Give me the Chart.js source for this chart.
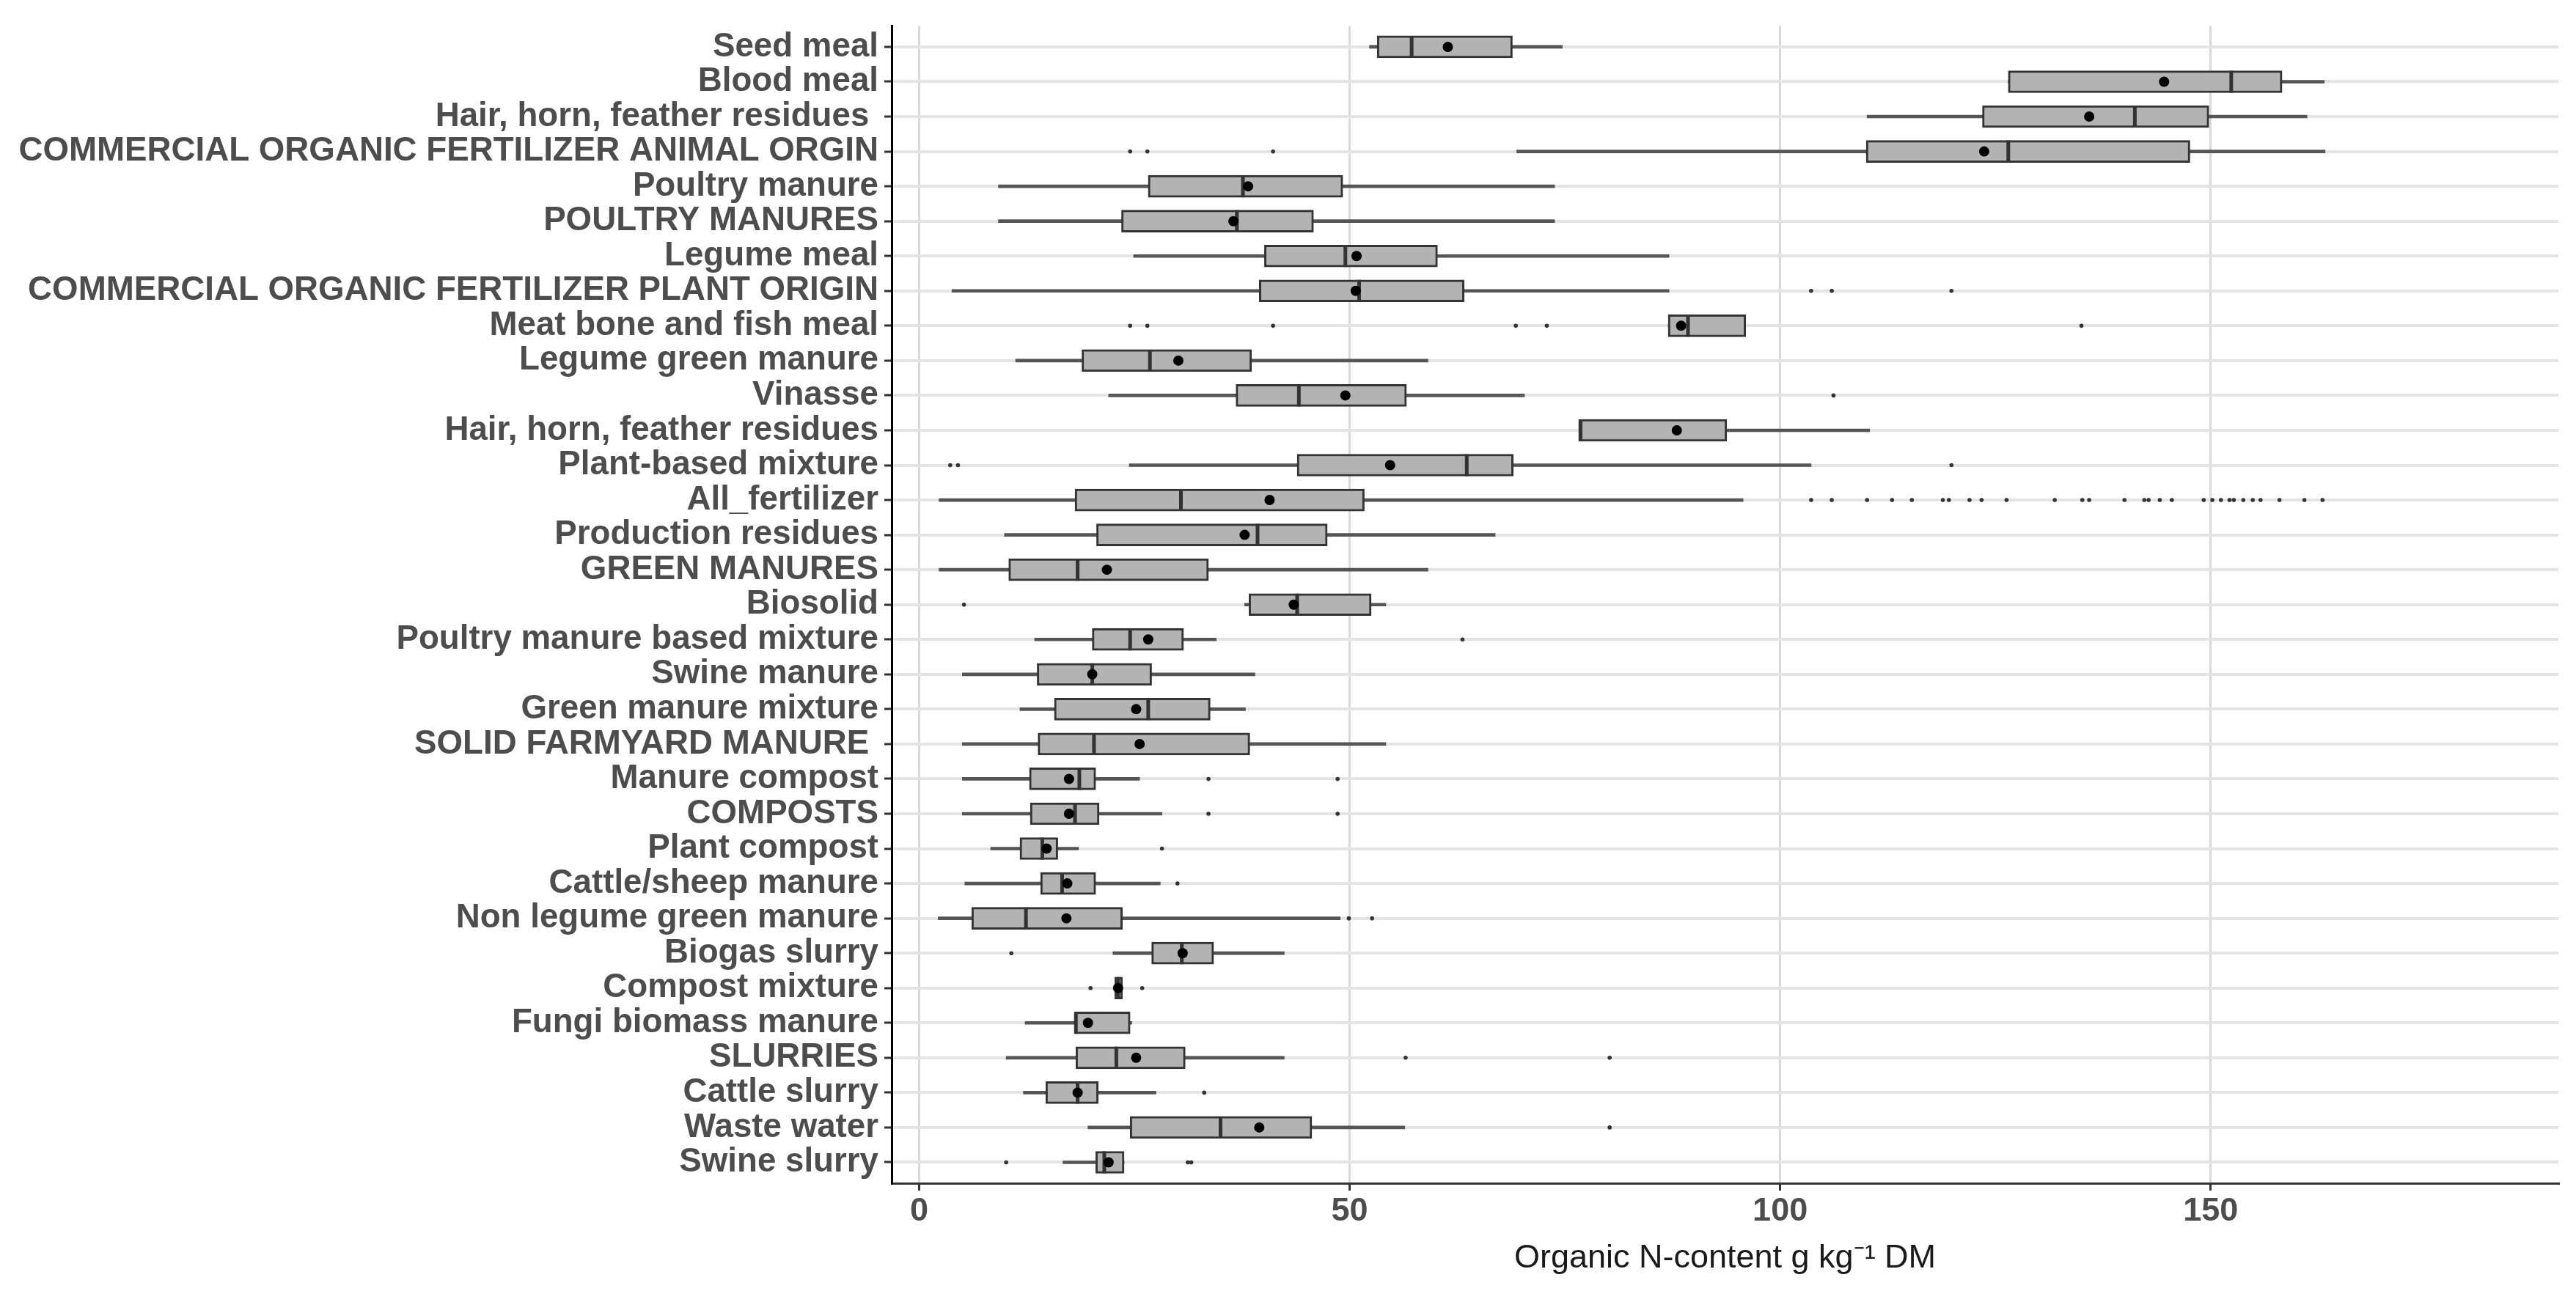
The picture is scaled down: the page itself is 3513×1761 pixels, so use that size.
<!DOCTYPE html>
<html lang="en">
  <head>
    <meta charset="UTF-8" />
    <title>Organic N-content</title>
    <script src="https://cdn.jsdelivr.net/npm/chart.js@4"></script>
    <style>
      html,
      body {
        margin: 0;
        padding: 0;
        background: #ffffff;
      }

      .chart-box {
        position: relative;
        width: 3513px;
        height: 1761px;
      }
    </style>
  </head>

  <body>
    <div class="chart-box">
      <canvas id="boxChart"></canvas>
    </div>

    <script>
      // one entry per fertilizer type, top to bottom
      const categories = [
        "Seed meal",
        "Blood meal",
        "Hair, horn, feather residues ",
        "COMMERCIAL ORGANIC FERTILIZER ANIMAL ORGIN",
        "Poultry manure",
        "POULTRY MANURES",
        "Legume meal",
        "COMMERCIAL ORGANIC FERTILIZER PLANT ORIGIN",
        "Meat bone and fish meal",
        "Legume green manure",
        "Vinasse",
        "Hair, horn, feather residues",
        "Plant-based mixture",
        "All_fertilizer",
        "Production residues",
        "GREEN MANURES",
        "Biosolid",
        "Poultry manure based mixture",
        "Swine manure",
        "Green manure mixture",
        "SOLID FARMYARD MANURE ",
        "Manure compost",
        "COMPOSTS",
        "Plant compost",
        "Cattle/sheep manure",
        "Non legume green manure",
        "Biogas slurry",
        "Compost mixture",
        "Fungi biomass manure",
        "SLURRIES",
        "Cattle slurry",
        "Waste water",
        "Swine slurry",
      ];

      const whiskerLow = [
        52.3, 126.5, 110.1, 69.4, 9.2, 9.2, 24.9, 3.8, 87.0, 11.2, 22.0, 76.8,
        24.4, 2.3, 9.9, 2.3, 37.8, 13.4, 5.0, 11.7, 5.0, 5.0, 5.0, 8.3, 5.3,
        2.2, 22.5, 22.7, 12.3, 10.1, 12.1, 19.6, 16.7,
      ];
      const q1 = [
        53.2, 126.5, 123.5, 110.0, 26.6, 23.5, 40.1, 39.5, 87.0, 18.9, 36.8,
        76.8, 43.9, 18.1, 20.6, 10.4, 38.3, 20.1, 13.7, 15.7, 13.8, 12.8, 12.9,
        11.7, 14.1, 6.1, 27.0, 22.7, 18.1, 18.2, 14.7, 24.5, 20.5,
      ];
      const median = [
        57.2, 152.4, 141.2, 126.5, 37.6, 36.9, 49.5, 51.1, 89.3, 26.8, 44.1,
        76.8, 63.6, 30.4, 39.3, 18.4, 43.9, 24.5, 20.1, 26.6, 20.3, 18.6, 18.1,
        14.3, 16.6, 12.4, 30.5, 23.1, 18.2, 22.9, 18.4, 35.0, 21.5,
      ];
      const q3 = [
        68.9, 158.3, 149.8, 147.6, 49.2, 45.8, 60.2, 63.3, 96.0, 38.6, 56.6,
        93.8, 69.0, 51.7, 47.4, 33.6, 52.5, 30.7, 27.0, 33.8, 38.4, 20.5, 20.9,
        16.1, 20.5, 23.6, 34.2, 23.6, 24.5, 30.9, 20.8, 45.6, 23.8,
      ];
      const whiskerHigh = [
        74.7, 163.2, 161.2, 163.3, 73.8, 73.8, 87.1, 87.1, 96.0, 59.1, 70.3,
        110.4, 103.6, 95.7, 66.9, 59.1, 54.2, 34.5, 39.0, 37.9, 54.2, 25.6,
        28.2, 18.5, 28.0, 48.9, 42.4, 23.6, 24.7, 42.4, 27.5, 56.4, 23.8,
      ];
      const mean = [
        61.4, 144.6, 135.9, 123.7, 38.2, 36.5, 50.8, 50.7, 88.5, 30.1, 49.5,
        88.0, 54.7, 40.7, 37.8, 21.8, 43.5, 26.6, 20.1, 25.2, 25.6, 17.4, 17.4,
        14.8, 17.2, 17.1, 30.6, 23.1, 19.6, 25.2, 18.4, 39.5, 22.0,
      ];
      const outliers = [
        [],
        [],
        [],
        [24.5, 26.5, 41.1],
        [],
        [],
        [],
        [103.6, 106.0, 119.9],
        [24.5, 26.5, 41.1, 69.3, 72.9, 135.0],
        [],
        [106.2],
        [],
        [3.6, 4.5, 119.9],
        [
          103.6, 106.0, 110.1, 113.0, 115.3, 118.9, 119.6, 122.0, 123.4, 126.3,
          131.9, 135.1, 135.9, 140.0, 142.3, 142.8, 144.1, 145.5, 149.2, 150.2,
          151.2, 152.2, 152.7, 153.8, 154.9, 155.8, 158.0, 160.9, 163.0,
        ],
        [],
        [],
        [5.2],
        [63.1],
        [],
        [],
        [],
        [33.6, 48.6],
        [33.6, 48.6],
        [28.2],
        [30.0],
        [49.9, 52.6],
        [10.7],
        [19.9, 25.9],
        [],
        [56.5, 80.2],
        [33.1],
        [80.2],
        [10.1, 31.2, 31.6],
      ];
      const xTicks = [0, 50, 100, 150];

      const fontFamily = '"Liberation Sans", Arial, sans-serif';
      const rows = categories.map((_, i) => i);

      const whiskerData = rows.map((i) => ({ y: i, x: [whiskerLow[i], whiskerHigh[i]] }));
      const boxData = rows.map((i) => ({ y: i, x: [q1[i], q3[i]] }));
      const medianData = rows.map((i) => ({ y: i, x: median[i] }));
      const meanData = rows.map((i) => ({ y: i, x: mean[i] }));
      const outlierData = outliers.flatMap((vals, i) => vals.map((v) => ({ y: i, x: v })));

      const ctx = document.getElementById("boxChart").getContext("2d");

      new Chart(ctx, {
        type: "bar",
        data: {
          datasets: [
            {
              type: "bar",
              data: whiskerData,
              indexAxis: "y",
              grouped: false,
              barThickness: 4,
              backgroundColor: "#555555",
              borderWidth: 0,
              order: 5,
            },
            {
              type: "bar",
              data: boxData,
              indexAxis: "y",
              grouped: false,
              barThickness: 30,
              backgroundColor: "#b3b3b3",
              borderColor: "#333333",
              borderWidth: 3,
              borderSkipped: false,
              order: 4,
            },
            {
              type: "scatter",
              data: medianData,
              pointStyle: "line",
              pointRotation: 90,
              pointRadius: 15,
              pointBorderColor: "#333333",
              pointBorderWidth: 5,
              order: 3,
            },
            {
              type: "scatter",
              data: meanData,
              pointStyle: "circle",
              pointRadius: 7,
              pointBackgroundColor: "#000000",
              pointBorderWidth: 0,
              order: 2,
            },
            {
              type: "scatter",
              data: outlierData,
              pointStyle: "circle",
              pointRadius: 2.8,
              pointBackgroundColor: "#333333",
              pointBorderWidth: 0,
              order: 1,
            },
          ],
        },
        options: {
          indexAxis: "y",
          responsive: true,
          maintainAspectRatio: false,
          animation: false,
          devicePixelRatio: 1,
          events: [],
          layout: { padding: { top: 29, right: 24, left: 0, bottom: 0 } },
          plugins: {
            legend: { display: false },
            tooltip: { enabled: false },
          },
          scales: {
            x: {
              type: "linear",
              position: "bottom",
              min: -3.2,
              max: 190.4,
              offset: false,
              afterBuildTicks: (axis) => {
                axis.ticks = xTicks.map((v) => ({ value: v }));
              },
              afterFit: (axis) => {
                axis.height = 147;
              },
              grid: {
                offset: false,
                color: "#d9d9d9",
                lineWidth: 3,
                tickColor: "#333333",
                tickWidth: 3,
                tickLength: 10,
              },
              border: { display: true, color: "#333333", width: 3 },
              ticks: {
                color: "#4d4d4d",
                padding: 2,
                font: { family: fontFamily, size: 45, weight: "bold" },
              },
              title: {
                display: true,
                text: "Organic N-content g kg\u207B\u00B9 DM",
                color: "#1a1a1a",
                font: { family: fontFamily, size: 45 },
                padding: { top: 0, bottom: 17 },
              },
            },
            y: {
              type: "linear",
              position: "left",
              reverse: true,
              min: -0.6,
              max: 32.6,
              offset: false,
              afterBuildTicks: (axis) => {
                axis.ticks = rows.map((i) => ({ value: i }));
              },
              afterFit: (axis) => {
                axis.width = 1216;
              },
              grid: {
                offset: false,
                color: "#e4e4e4",
                lineWidth: 4,
                tickColor: "#333333",
                tickWidth: 3,
                tickLength: 10,
              },
              border: { display: true, color: "#000000", width: 3 },
              ticks: {
                autoSkip: false,
                color: "#4d4d4d",
                padding: 8,
                font: { family: fontFamily, size: 45.7, weight: "bold" },
                callback: (value) => categories[value],
              },
            },
          },
        },
      });
    </script>
  </body>
</html>
